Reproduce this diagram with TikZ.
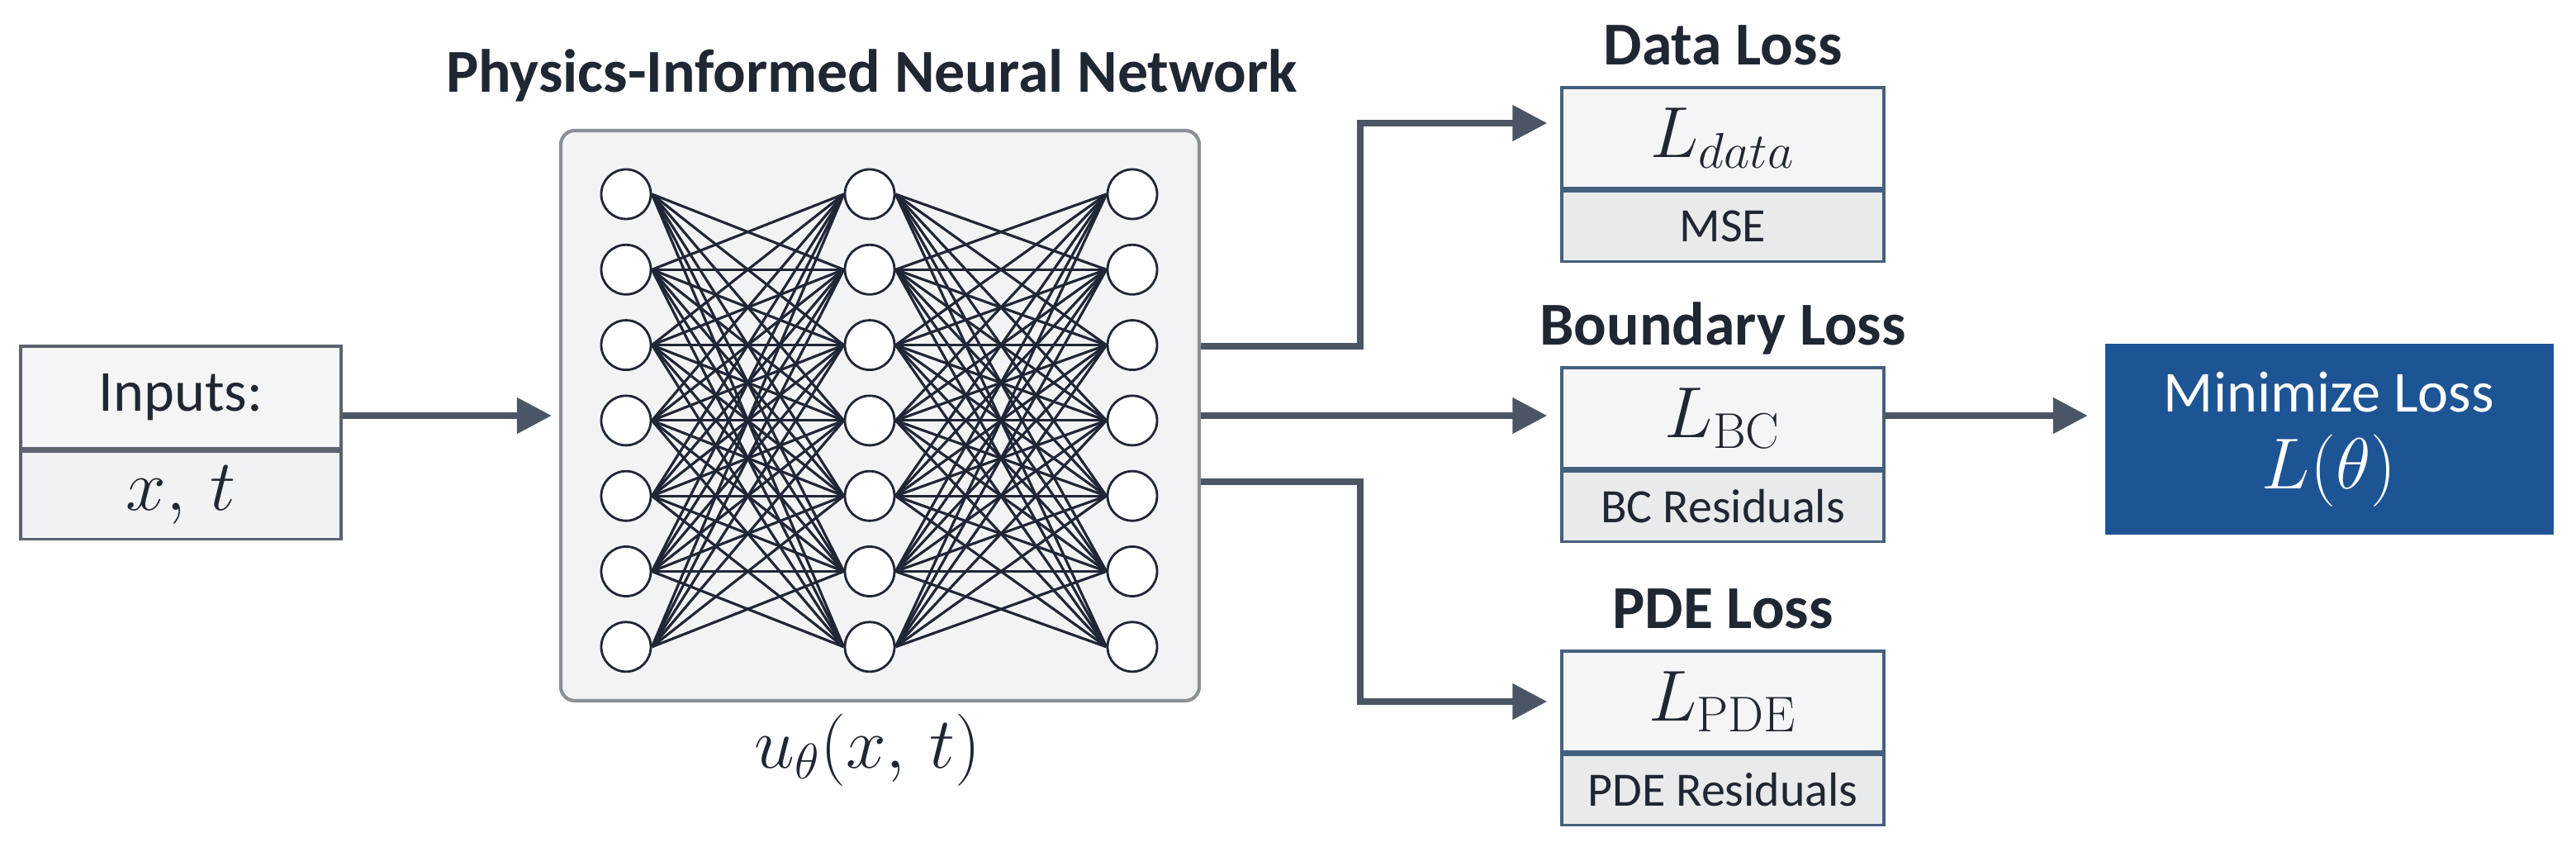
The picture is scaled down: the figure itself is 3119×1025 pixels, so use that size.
\documentclass[tikz,border=0pt]{standalone}
\usepackage{amsmath}
\usepackage[no-math]{fontspec}
\setmainfont{Carlito}
\usetikzlibrary{arrows.meta, positioning}

\definecolor{ink}{HTML}{1F2733}
\definecolor{wire}{HTML}{1F2635}
\definecolor{slate}{HTML}{4B5565}
\definecolor{inedge}{HTML}{5C636E}
\definecolor{lossedge}{HTML}{45607F}
\definecolor{nnedge}{HTML}{8B9098}
\definecolor{nnfill}{HTML}{F2F3F4}
\definecolor{topfill}{HTML}{F4F5F6}
\definecolor{subfill}{HTML}{E8EAEC}
\definecolor{minblue}{RGB}{29,84,148}

\begin{document}
\begin{tikzpicture}[
                x = 0.1mm, y = -0.1mm, % one unit per pixel, y runs down
                > = {Triangle[length=4.2mm, width=4.2mm]}, % arrow head style
                flow/.style = {->, draw=slate, line width=2.3pt, shorten >=1.6mm},
                mathbig/.style = {font=\fontsize{24}{28}\selectfont}
            ]

            \tikzstyle{neuron}=[draw=wire, fill=white, circle, line width=0.8pt,
            minimum size=6mm, inner sep=0pt]
            \tikzstyle{synapse}=[draw=wire, line width=0.9pt]
            \tikzstyle{topcell}=[draw=lossedge, fill=topfill, line width=1pt,
            minimum width=3.9cm, minimum height=12.2mm, inner sep=0pt, text=ink,
            font=\fontsize{24}{28}\selectfont]
            \tikzstyle{subcell}=[draw=lossedge, fill=subfill, line width=1pt,
            minimum width=3.9cm, minimum height=8.5mm, inner sep=0pt, text=ink,
            font=\fontsize{16.5}{20}\selectfont]
            \tikzstyle{losstitle}=[text=ink, inner sep=0pt,
            font=\fontsize{21}{25}\selectfont\bfseries]

            \useasboundingbox (0,0) rectangle (3119,1025);

            % inputs
            \node (in1) [topcell, draw=inedge, minimum width=3.88cm, minimum height=12.4mm,
            font=\fontsize{20}{24}\selectfont] at (219,481) {Inputs:};
            \node (in2) [topcell, draw=inedge, fill=topfill!70!subfill, minimum width=3.88cm,
            minimum height=10.6mm, below=0pt of in1] {$x,\,t$};

            % network
            \node (nn) [draw=nnedge, fill=nnfill, rounded corners=1.7mm, line width=1.2pt,
            minimum width=7.73cm, minimum height=6.9cm] at (1065.5,503) {};
            \node (title) [losstitle, above=4.4mm of nn, anchor=base, xshift=-1mm]
            {Physics-Informed Neural Network};
            \node (uout) [mathbig, text=ink, below=7.9mm of nn, anchor=base, xshift=-1.5mm]
            {$u_\theta(x,\,t)$};

            \foreach \l/\x in {1/758, 2/1053, 3/1371}
                \foreach \r in {1,...,7}
                    \node (n\l\r) [neuron] at (\x, {235+91.3*(\r-1)}) {};

            \foreach \a in {1,...,7} \foreach \b in {1,...,7} {
                \pgfmathtruncatemacro{\same}{and(\a==\b, or(\a==1, \a==7))}
                \ifnum\same=0
                    \draw[synapse] (n1\a.east) -- (n2\b.west);
                    \draw[synapse] (n2\a.east) -- (n3\b.west);
                \fi
            }

            % losses
            \node (d1) [topcell] at (2086,167) {$L_{data}$};
            \node (d2) [subcell, below=0pt of d1] {MSE};
            \node (dt) [losstitle, above=2.6mm of d1, anchor=base] {Data Loss};

            \node (b1) [topcell] at (2086,506) {$L_{\mathrm{BC}}$};
            \node (b2) [subcell, below=0pt of b1] {BC Residuals};
            \node (bt) [losstitle, above=2.6mm of b1, anchor=base] {Boundary Loss};

            \node (p1) [topcell] at (2086,849) {$L_{\mathrm{PDE}}$};
            \node (p2) [subcell, below=0pt of p1] {PDE Residuals};
            \node (pt) [losstitle, above=2.6mm of p1, anchor=base] {PDE Loss};

            \node (min) [fill=minblue, text=white, minimum width=5.43cm, minimum height=2.31cm,
            align=center, font=\fontsize{20}{26.5}\selectfont] at (2820,532)
            {Minimize Loss\\{\fontsize{24}{26.5}\selectfont$L(\theta)$}};

            % connectors
            \coordinate (split) at (1647,0);
            \coordinate (outD) at ([yshift=8.4mm]nn.east);
            \coordinate (outP) at ([yshift=-8mm]nn.east);

            \draw[flow, shorten >=0.9mm] (in1.east |- nn.west) -- (nn.west);
            \draw[flow] (outD) -- (outD -| split) |- ([yshift=1.8mm]d1.west);
            \draw[flow] (nn.east) -- (nn.east -| b1.west);
            \draw[flow] (outP) -- (outP -| split) |- (p1.west);
            \draw[flow, shorten >=2mm] (nn.east -| b1.east) -- (nn.east -| min.west);

        \end{tikzpicture}
\end{document}
